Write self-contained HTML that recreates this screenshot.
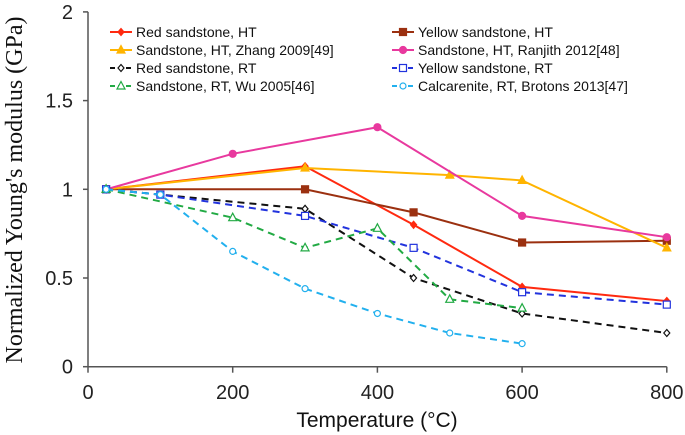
<!DOCTYPE html>
<html><head><meta charset="utf-8"><style>
body{margin:0;background:#fff}
svg{display:block}
text{font-family:"Liberation Sans",Arial,sans-serif}
</style></head><body>
<svg id="chart" width="685" height="435"></svg>
<script>
const xTicks=[0,200,400,600,800];
const yTicks=[0,0.5,1,1.5,2];
const yTickLabels=["0","0.5","1","1.5","2"];
const redHT_x=[25,300,450,600,800], redHT_y=[1,1.13,0.80,0.45,0.37];
const yelHT_x=[25,300,450,600,800], yelHT_y=[1,1.0,0.87,0.70,0.71];
const zhang_x=[25,300,500,600,800], zhang_y=[1,1.12,1.08,1.05,0.67];
const ranjith_x=[25,200,400,600,800], ranjith_y=[1,1.2,1.35,0.85,0.73];
const redRT_x=[25,300,450,600,800], redRT_y=[1,0.89,0.50,0.30,0.19];
const yelRT_x=[25,100,300,450,600,800], yelRT_y=[1,0.97,0.85,0.67,0.42,0.35];
const wu_x=[25,200,300,400,500,600], wu_y=[1,0.84,0.67,0.78,0.38,0.33];
const brotons_x=[25,100,200,300,400,500,600], brotons_y=[1,0.97,0.65,0.44,0.30,0.19,0.13];
const seriesNames=["Red sandstone, HT","Yellow sandstone, HT","Sandstone, HT, Zhang 2009[49]","Sandstone, HT, Ranjith 2012[48]","Red sandstone, RT","Yellow sandstone, RT","Sandstone, RT, Wu 2005[46]","Calcarenite, RT, Brotons 2013[47]"];

const NS="http://www.w3.org/2000/svg";
const svg=document.getElementById('chart');
const X=v=>88+v*(578.8/800);
const Y=v=>366.7-v*177.4;
function mk(t,a,p){const e=document.createElementNS(NS,t);for(const k in a)e.setAttribute(k,a[k]);(p||svg).appendChild(e);return e;}

const ax=mk('g',{});


mk('line',{x1:88,y1:Y(2),x2:88,y2:Y(0),stroke:'#555','stroke-width':1.5},ax);
mk('line',{x1:88,y1:Y(0),x2:X(800),y2:Y(0),stroke:'#555','stroke-width':1.5},ax);
yTicks.forEach((v,i)=>{
  mk('line',{x1:83,y1:Y(v),x2:88,y2:Y(v),stroke:'#555','stroke-width':1.5},ax);
  const t=mk('text',{x:73,y:Y(v)+7,'text-anchor':'end','font-size':20,fill:'#222'},ax);
  t.textContent=yTickLabels[i];
  
  
});
xTicks.forEach(v=>{
  mk('line',{x1:X(v),y1:Y(0),x2:X(v),y2:Y(0)+6,stroke:'#555','stroke-width':1.5},ax);
  const t=mk('text',{x:X(v),y:399,'text-anchor':'middle','font-size':20,fill:'#222'},ax);
  t.textContent=v;
  
  
});
const xt=mk('text',{x:377,y:427,'text-anchor':'middle','font-size':21,fill:'#111'});
xt.textContent='Temperature (°C)';


const yt=mk('text',{x:0,y:0,'text-anchor':'middle','font-size':24,fill:'#111',transform:'translate(22,190) rotate(-90)'});
yt.setAttribute('style','font-family:"Liberation Serif",serif');
yt.textContent="Normalized Young's modulus (GPa)";



function marker(g,type,cx,cy,color){
  if(type==='diamond'||type==='odiamond'){
    mk('polygon',{points:`${cx},${cy-3.5} ${cx+3},${cy} ${cx},${cy+3.5} ${cx-3},${cy}`,fill:type==='diamond'?color:'#fff',stroke:color,'stroke-width':1.2},g);
  }else if(type==='square'||type==='osquare'){
    mk('rect',{x:cx-3.5,y:cy-3.5,width:7,height:7,fill:type==='square'?color:'#fff',stroke:color,'stroke-width':1.2},g);
  }else if(type==='tri'||type==='otri'){
    mk('polygon',{points:`${cx},${cy-4.5} ${cx+4},${cy+3} ${cx-4},${cy+3}`,fill:type==='tri'?color:'#fff',stroke:color,'stroke-width':1.2},g);
  }else{
    mk('circle',{cx:cx,cy:cy,r:type==='circle'?3.5:3,fill:type==='circle'?color:'#fff',stroke:color,'stroke-width':1.2},g);
  }
}
const series=[
 [redHT_x,redHT_y,'#ff2a10','diamond',false,'series-red-sandstone-ht'],
 [yelHT_x,yelHT_y,'#9b3010','square',false,'series-yellow-sandstone-ht'],
 [zhang_x,zhang_y,'#ffb400','tri',false,'series-zhang-2009'],
 [ranjith_x,ranjith_y,'#e8399e','circle',false,'series-ranjith-2012'],
 [redRT_x,redRT_y,'#111','odiamond',true,'series-red-sandstone-rt'],
 [yelRT_x,yelRT_y,'#2233dd','osquare',true,'series-yellow-sandstone-rt'],
 [wu_x,wu_y,'#22aa44','otri',true,'series-wu-2005'],
 [brotons_x,brotons_y,'#22b0ee','ocircle',true,'series-brotons-2013']
];
series.forEach(s=>{
  const g=mk('g',{});
  
  
  const pts=s[0].map((x,i)=>X(x)+','+Y(s[1][i])).join(' ');
  const a={points:pts,fill:'none',stroke:s[2],'stroke-width':2};
  if(s[4])a['stroke-dasharray']='7,5';
  mk('polyline',a,g);
  s[0].forEach((x,i)=>marker(g,s[3],X(x),Y(s[1][i]),s[2]));
});
const lg=mk('g',{});


series.forEach((s,i)=>{
  const col=i%2, row=Math.floor(i/2);
  const lx=col?392:110, ly=32+row*18;
  const e=mk('g',{},lg);
  
  
  const a={x1:lx,y1:ly,x2:lx+22,y2:ly,stroke:s[2],'stroke-width':2};
  if(s[4])a['stroke-dasharray']='5,3';
  mk('line',a,e);
  marker(e,s[3],lx+11,ly,s[2]);
  const t=mk('text',{x:lx+26,y:ly+5,'font-size':14,fill:'#111'},e);
  t.textContent=seriesNames[i];
});
</script>
</body></html>
